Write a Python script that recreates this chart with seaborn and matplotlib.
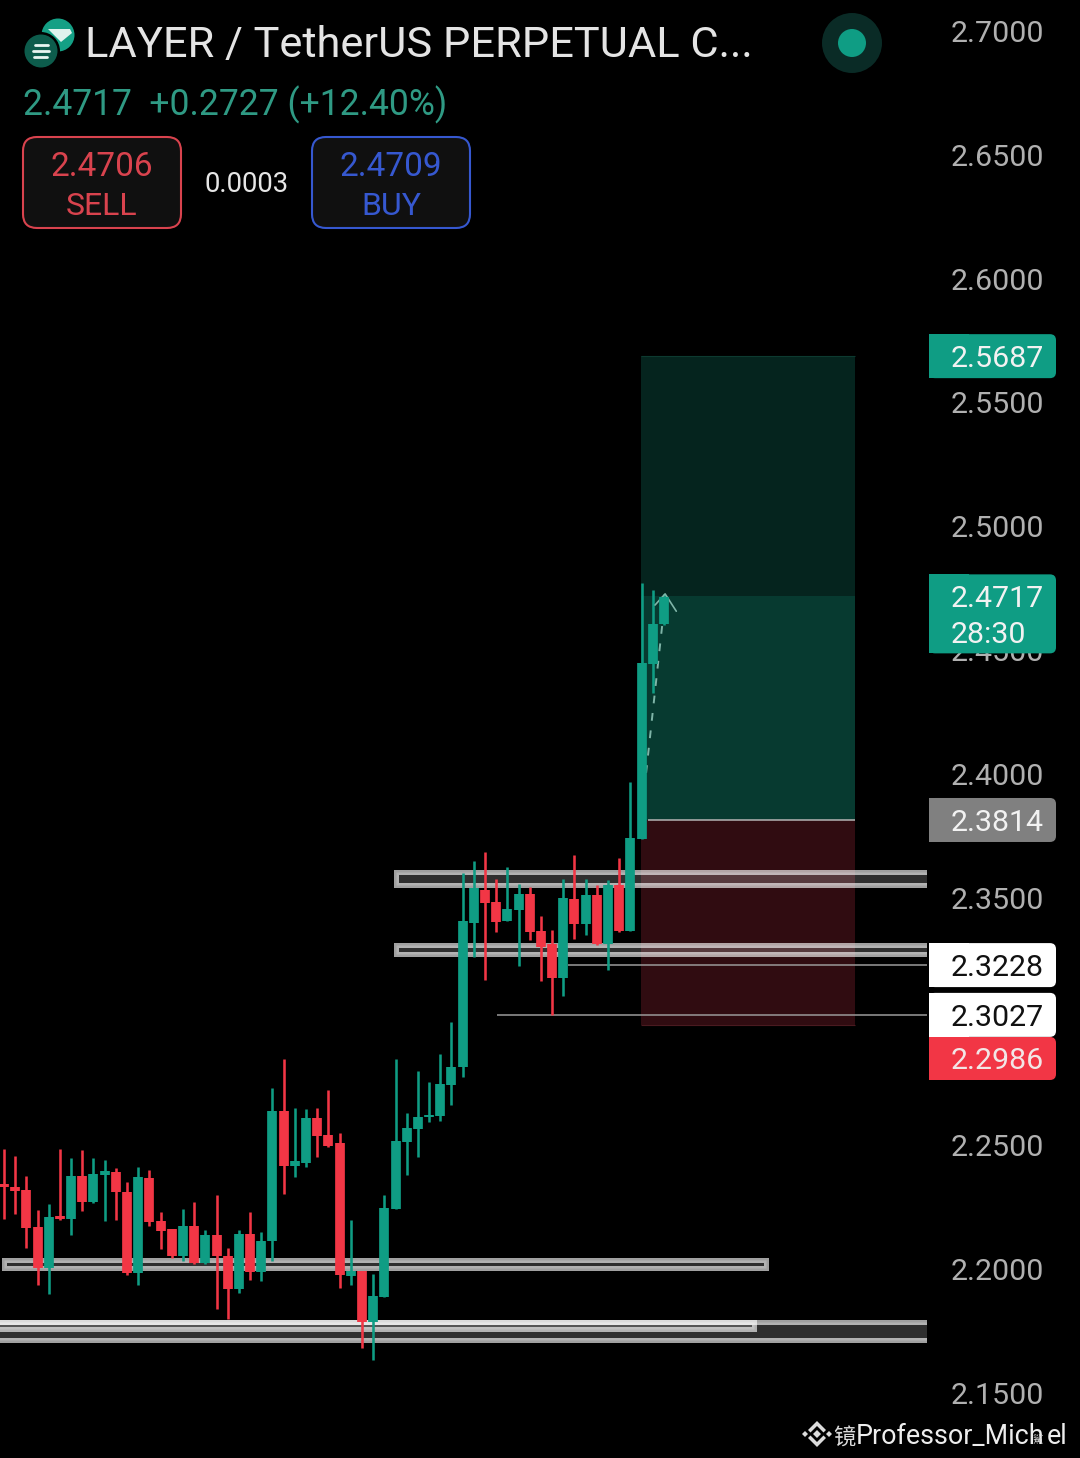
import numpy as np
import pandas as pd
import matplotlib
matplotlib.use("Agg")
import matplotlib.pyplot as plt
from matplotlib.patches import Rectangle, FancyBboxPatch, Circle, Polygon
from matplotlib.transforms import Bbox, TransformedBbox
import seaborn as sns

# ---------------- data (prices) ----------------
HIGH = [2.2485,2.2457,2.2376,2.2239,2.2263,2.2485,2.2449,2.2481,2.2449,2.2441,
        2.2408,2.2352,2.2412,2.2400,2.2231,2.2162,2.2243,2.2271,2.2158,2.2299,
        2.2085,2.2158,2.2231,2.2150,2.2731,2.2849,2.2651,2.2647,2.2651,2.2723,
        2.2550,2.2198,2.1992,2.1980,2.2299,2.2849,2.2630,2.2800,2.2756,2.2869,
        2.2998,2.3600,2.3649,2.3685,2.3576,2.3624,2.3556,2.3544,2.3426,2.3370,
        2.3576,2.3673,2.3576,2.3552,2.3572,2.3661,2.3968,2.4772,2.4743,2.4727]
LOW = [2.2202,2.2222,2.2085,2.1936,2.1899,2.2198,2.2138,2.2235,2.2267,2.2194,
       2.2198,2.1976,2.1936,2.2174,2.2081,2.2045,2.2033,2.2020,2.2020,2.1839,
       2.1798,2.1903,2.1956,2.1952,2.2033,2.2303,2.2372,2.2412,2.2453,2.2493,
       2.1923,2.1936,2.1681,2.1633,2.1887,2.2243,2.2380,2.2453,2.2594,2.2598,
       2.2663,2.2776,2.3261,2.3168,2.3362,2.3406,2.3224,2.3329,2.3164,2.3026,
       2.3103,2.3333,2.3350,2.3309,2.3208,2.3362,2.3366,2.3737,2.4327,2.4602]
OPEN = [2.2344,2.2332,2.2319,2.2170,2.2004,2.2214,2.2202,2.2376,2.2271,2.2380,
        2.2392,2.2311,2.1984,2.2368,2.2194,2.2162,2.2053,2.2174,2.2025,2.2138,
        2.2053,2.1919,2.2142,2.1988,2.2113,2.2639,2.2416,2.2428,2.2610,2.2542,
        2.2509,2.1972,2.1992,2.1786,2.1887,2.2243,2.2513,2.2566,2.2614,2.2618,
        2.2744,2.2816,2.3398,2.3531,2.3483,2.3406,2.3451,2.3515,2.3366,2.3313,
        2.3176,2.3495,2.3394,2.3511,2.3313,2.3552,2.3366,2.3737,2.4444,2.4606]
CLOSE = [2.2332,2.2315,2.2166,2.2004,2.2210,2.2202,2.2376,2.2271,2.2384,2.2396,
         2.2311,2.1984,2.2372,2.2190,2.2154,2.2053,2.2174,2.2025,2.2138,2.2053,
         2.1919,2.2142,2.1988,2.2113,2.2639,2.2416,2.2437,2.2610,2.2538,2.2497,
         2.1976,2.1992,2.1786,2.1891,2.2247,2.2517,2.2570,2.2614,2.2622,2.2748,
         2.2816,2.3406,2.3539,2.3479,2.3402,2.3455,2.3515,2.3362,2.3301,2.3176,
         2.3499,2.3394,2.3511,2.3313,2.3552,2.3366,2.3741,2.4448,2.4606,2.4715]

TICKS = [2.70, 2.65, 2.60, 2.55, 2.50, 2.45, 2.40, 2.35, 2.25, 2.20, 2.15]
TICK_LABELS = ["2.7000","2.6500","2.6000","2.5500","2.5000","2.4500",
               "2.4000","2.3500","2.2500","2.2000","2.1500"]

TARGET, LAST, ENTRY, STOP = 2.5687, 2.4717, 2.3814, 2.2986
LEVEL_A, LEVEL_B = 2.3228, 2.3027

# support / resistance boxes: (x0, x1, upper price, lower price)
BOX_X0 = [35.07, 35.07, 0.04, -2.0, -2.0]
BOX_X1 = [86.0, 86.0, 68.08, 86.0, 67.08]
BOX_HI = [2.3602, 2.3311, 2.2039, 2.1788, 2.1788]
BOX_LO = [2.3550, 2.3271, 2.2006, 2.1715, 2.1760]
PLOT_RIGHT = 82.5

ARROW_X = [57.4, 59.0]
ARROW_Y = [2.4004, 2.4666]
HEAD_X = [58.2, 59.1, 60.1]
HEAD_Y = [2.4682, 2.4727, 2.4657]

GREEN, RED = "#0f9d84", "#f23645"

# ---------------- theme ----------------
sns.set_theme(style="dark", rc={"axes.facecolor": "black", "figure.facecolor": "black",
                                "axes.grid": False})
plt.rcParams["font.family"] = ["Roboto", "Noto Sans CJK SC", "DejaVu Sans"]

fig = plt.figure(figsize=(10.8, 14.58), dpi=100, facecolor="black")
ax = fig.add_axes([0, 0, 1, 1])
ax.set_xlim(-0.3575, 96.19)
ax.set_ylim(2.12376, 2.71252)

# ---------------- zones ----------------
ZX0, ZX1 = 56.93, 76.1
ax.fill_between([ZX0, ZX1], LAST, TARGET, color="#05241e", lw=0, zorder=1)
ax.fill_between([ZX0, ZX1], ENTRY, LAST, color="#073a30", lw=0, zorder=1)
ax.fill_between([ZX0, ZX1], STOP, ENTRY, color="#300c11", lw=0, zorder=1)
ax.hlines(TARGET, ZX0, ZX1, color="#0d3a30", lw=0.8, zorder=1.1)
ax.hlines(ENTRY, 57.6, ZX1, color="#b5b5b5", lw=1.1, zorder=1.1)
ax.hlines(STOP, ZX0, ZX1, color="#4a1a20", lw=0.8, zorder=1.1)

# ---------------- boxes and lines ----------------
clip = TransformedBbox(Bbox([[-5, 2.0], [PLOT_RIGHT, 3.0]]), ax.transData)
for x0, x1, hi, lo in zip(BOX_X0, BOX_X1, BOX_HI, BOX_LO):
    box = Rectangle((x0, lo), x1 - x0, hi - lo, facecolor=(1, 1, 1, 0.19),
                    edgecolor=(1, 1, 1, 0.63), lw=3.6, zorder=1.5)
    ax.add_patch(box)
    box.set_clip_box(clip)
ax.hlines(LEVEL_A, 50.4, PLOT_RIGHT, color="#9a9a9a", lw=1.1, zorder=1.6)
ax.hlines(LEVEL_B, 44.06, PLOT_RIGHT, color="#9a9a9a", lw=1.1, zorder=1.6)

# ---------------- candles through seaborn ----------------
idx = np.arange(len(OPEN))
frame = pd.DataFrame({"idx": idx, "open": OPEN, "close": CLOSE, "high": HIGH, "low": LOW})
frame["dir"] = np.where(frame["close"] >= frame["open"], "up", "down")
palette = {"up": GREEN, "down": RED}

wicks = frame.melt(id_vars=["idx", "dir"], value_vars=["high", "low"], value_name="price")
bodies = frame.melt(id_vars=["idx", "dir"], value_vars=["open", "close"], value_name="price")
sns.lineplot(data=wicks, x="idx", y="price", hue="dir", units="idx", estimator=None,
             palette=palette, linewidth=1.85, legend=False, sort=False, ax=ax,
             solid_capstyle="butt", zorder=3)
sns.lineplot(data=bodies, x="idx", y="price", hue="dir", units="idx", estimator=None,
             palette=palette, linewidth=7.0, legend=False, sort=False, ax=ax,
             solid_capstyle="butt", zorder=3.2)

ax.plot(ARROW_X, ARROW_Y, color="#7fb5a8", lw=1.4, ls=(0, (4, 5)), zorder=3.1)
ax.plot(HEAD_X, HEAD_Y, color="#7fb5a8", lw=1.2, zorder=3.1)

# ---------------- right price axis ----------------
ax.set_xlabel("")
ax.set_ylabel("")
ax.set_xticks([])
ax.yaxis.tick_right()
ax.set_yticks(TICKS)
ax.set_yticklabels(TICK_LABELS)
ax.tick_params(axis="y", length=0, pad=-92.9, labelsize=21.9, labelcolor="#b0b0b0")
ax.set_ylim(2.12376, 2.71252)
ax.set_xlim(-0.3575, 96.19)
for s in ax.spines.values():
    s.set_visible(False)

# ---------------- overlay for the app chrome (pixel space) ----------------
ui = fig.add_axes([0, 0, 1, 1], zorder=5)
ui.set_xlim(0, 1080)
ui.set_ylim(1458, 0)
ui.axis("off")
fig.canvas.draw()
DY = 3


def py(price):
    return ui.transData.inverted().transform(ax.transData.transform((0, price)))[1]


def tag(top, bottom, color, lines, tcolor):
    ui.add_patch(FancyBboxPatch((929, top), 127, bottom - top,
                                boxstyle="round,pad=0,rounding_size=6", fc=color, ec="none"))
    ui.add_patch(Rectangle((929, top), 40, bottom - top, fc=color, ec="none"))
    for ty, s in lines:
        ui.text(951, ty + DY, s, color=tcolor, fontsize=21.9, ha="left", va="center")


tag(py(TARGET) - 22, py(TARGET) + 22, "#0f9d84", [(py(TARGET), "2.5687")], "#f2f2f2")
tag(py(LAST) - 22, py(LAST) + 57, "#0f9d84",
    [(py(LAST), "2.4717"), (py(LAST) + 36, "28:30")], "#f2f2f2")
tag(py(ENTRY) - 22, py(ENTRY) + 22, "#808080", [(py(ENTRY), "2.3814")], "#f2f2f2")
tag(py(LEVEL_A) - 22, py(LEVEL_A) + 22, "#ffffff", [(py(LEVEL_A), "2.3228")], "#111111")
tag(py(LEVEL_B) - 22, py(LEVEL_B) + 22, "#ffffff", [(py(LEVEL_B), "2.3027")], "#111111")
tag(1037, 1080, RED, [(1058, "2.2986")], "#f2e6e6")

# header
ui.text(85, 42 + DY, "LAYER / TetherUS PERPETUAL C...", color="#e4e4e4", fontsize=31.2,
        ha="left", va="center")
ui.text(23, 102 + DY, "2.4717  +0.2727 (+12.40%)", color="#2f9a84", fontsize=25.6,
        ha="left", va="center")

for x0, col, num, word in [(23, "#d9434e", "2.4706", "SELL"), (312, "#3658d0", "2.4709", "BUY")]:
    ui.add_patch(FancyBboxPatch((x0, 137), 158, 91, boxstyle="round,pad=0,rounding_size=14",
                                fc="#101010", ec=col, lw=1.5))
    ui.text(x0 + 79, 164 + DY, num, color=col, fontsize=24, ha="center", va="center")
    ui.text(x0 + 79, 203 + DY, word, color=col, fontsize=23, ha="center", va="center")
ui.text(246.5, 181 + DY, "0.0003", color="#e6e6e6", fontsize=19.8, ha="center", va="center")

# live dot
ui.add_patch(Circle((852, 43), 30, fc="#0a2b26", ec="none"))
ui.add_patch(Circle((852, 43), 14, fc="#0f9d84", ec="none"))

# coin icons
ui.add_patch(Circle((58, 35), 16.5, fc="#14a085", ec="none"))
ui.add_patch(Polygon([[48, 29], [70, 29], [72, 33], [61, 42]], fc="#dff3ee", ec="none"))
ui.add_patch(Circle((41, 51), 19, fc="black", ec="none"))
ui.add_patch(Circle((41, 51), 16.5, fc="#0d5c4c", ec="none"))
for yy, xa, xb in [(45, 35, 48), (51, 33, 49), (57, 34, 47)]:
    ui.plot([xa, xb], [yy, yy], color="#e8f5f1", lw=2.0, solid_capstyle="round")

# watermark
WM = "#dcdcdc"
for cx, cy, r in [(817, 1434, 4), (805, 1434, 3), (829, 1434, 3)]:
    ui.add_patch(Polygon([[cx - r, cy], [cx, cy - r], [cx + r, cy], [cx, cy + r]], fc=WM, ec="none"))
for sgn in (-1, 1):
    ui.add_patch(Polygon([[808, 1434 + sgn * 4], [817, 1434 + sgn * 13], [826, 1434 + sgn * 4],
                          [823.5, 1434 + sgn * 1.5], [817, 1434 + sgn * 8], [810.5, 1434 + sgn * 1.5]],
                         fc=WM, ec="none"))
ui.text(844, 1438, "镜", color=WM, fontsize=16, ha="center", va="center",
        family=["Noto Sans CJK SC", "DejaVu Sans"])
ui.text(856, 1436, "Professor_Mich", color="#ededed", fontsize=19.4, ha="left", va="center")
ui.text(1038, 1439, "鯊", color=WM, fontsize=7.5, ha="center", va="center",
        family=["Noto Sans CJK SC", "DejaVu Sans"])
ui.text(1047, 1436, "el", color="#ededed", fontsize=19.4, ha="left", va="center")

fig.savefig("out.png", dpi=100, facecolor="black")
